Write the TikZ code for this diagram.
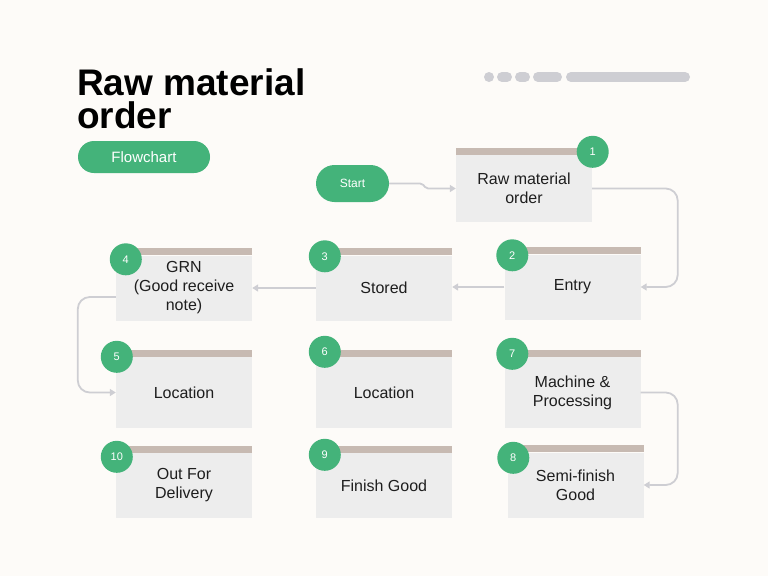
\documentclass[tikz,border=0pt]{standalone}
\usepackage{fontspec}
\setmainfont{Liberation Sans}
\usetikzlibrary{arrows.meta,positioning,calc}
\definecolor{pageBg}{RGB}{253,251,248}
\definecolor{stepGreen}{RGB}{68,179,122}
\definecolor{stepFill}{RGB}{237,237,237}
\definecolor{stepBar}{RGB}{199,186,178}
\definecolor{flowGrey}{RGB}{206,206,211}
\definecolor{inkDark}{RGB}{30,30,30}

\begin{document}
\begin{tikzpicture}[
  x=1pt, y=-1pt,
  font=\fontsize{16}{19}\selectfont,
  text=inkDark,
  stepbox/.style={fill=stepFill, draw=none, minimum width=136pt, minimum height=65pt,
                  align=center, inner sep=0pt},
  tallbox/.style={stepbox, minimum height=71pt},
  badge/.style={circle, fill=stepGreen, draw=none, text=white, minimum size=32pt,
                inner sep=0pt, font=\fontsize{11}{11}\selectfont},
  pill/.style={fill=stepGreen, draw=none, text=white, inner sep=0pt},
  title/.style={font=\bfseries\fontsize{37}{33}\selectfont, text=black, inner sep=0pt},
  flow/.style={draw=flowGrey, line width=1.8pt, rounded corners=12pt,
               -{Triangle[length=6pt,width=7pt]}},
]

\def\barH{7}

% ---------- page ----------
\fill[pageBg] (0,0) rectangle (768,576);
\useasboundingbox (0,0) rectangle (768,576);

% ---------- heading ----------
\node[title, anchor=north west, align=left] (title) at (77,68) {Raw material\\order};
\node[pill, rounded corners=16pt, minimum width=132pt, minimum height=32pt,
      font=\fontsize{15}{15}\selectfont] (tag) at (144,157) {Flowchart};

% progress dashes, top right
\fill[flowGrey] (489,77) circle (5);
\foreach \a/\b in {502/507, 520/525, 538/557, 571/685}
  \draw[flowGrey, line width=10pt, line cap=round] (\a,77) -- (\b,77);

% ---------- steps ----------
\node[pill, rounded corners=18.5pt, minimum width=73pt, minimum height=37pt,
      font=\fontsize{12}{12}\selectfont] (start) at (352.5,183.5) {Start};

\node[stepbox, minimum height=67pt] (b1) at (524,188.5) {Raw material\\order};
\node[stepbox] (b2) at (572.5,287) {Entry};
\node[stepbox] (b3) at (384,288) {Stored};
\node[stepbox] (b4) at (184,288) {GRN\\(Good receive\\note)};
\node[tallbox] (b5) at (184,392.5) {Location};
\node[tallbox] (b6) at (384,392.5) {Location};
\node[tallbox] (b7) at (572.5,392.5) {Machine \&\\Processing};
\node[stepbox] (b10) at (184,485.5) {Out For\\Delivery};
\node[stepbox] (b9) at (384,485.5) {Finish Good};
\node[stepbox] (b8) at (575.5,485) {Semi-finish\\Good};

\foreach \b in {b1,b2,b3,b4,b5,b6,b7,b8,b9,b10}
  \fill[stepBar] ($(\b.north west)+(0,-\barH)$) rectangle (\b.north east);

% ---------- connectors ----------
\draw[flow, rounded corners=2pt] (start.east) -- ++(33,0) -- ++(4,5) -- (b1.west);
\draw[flow] (b1.east) -| ($(b2.east)+(37,0)$) -- (b2.east);
\draw[flow] (b2.west) -- (b2.west -| b3.east);
\draw[flow] (b3.west) -- (b3.west -| b4.east);
\draw[flow] ($(b4.west)+(0,9)$) -| ($(b5.west)+(-38,0)$) -- (b5.west);
\draw[flow] (b7.east) -| ($(b8.east)+(34,0)$) -- (b8.east);

% ---------- badges ----------
\node[badge] (c1) at ($(b1.north east)+(0.5,-3)$) {1};
\node[badge] (c2) at ($(b2.north west)+(8,1)$) {2};
\node[badge] (c3) at ($(b3.north west)+(9,1)$) {3};
\node[badge] (c4) at ($(b4.north west)+(10,4)$) {4};
\node[badge] (c5) at ($(b5.north west)+(1,0)$) {5};
\node[badge] (c6) at ($(b6.north west)+(9,-5)$) {6};
\node[badge] (c7) at ($(b7.north west)+(8,-3)$) {7};
\node[badge] (c8) at ($(b8.north west)+(6,5.5)$) {8};
\node[badge] (c9) at ($(b9.north west)+(9,2)$) {9};
\node[badge] (c10) at ($(b10.north west)+(1,4)$) {10};

\end{tikzpicture}
\end{document}
